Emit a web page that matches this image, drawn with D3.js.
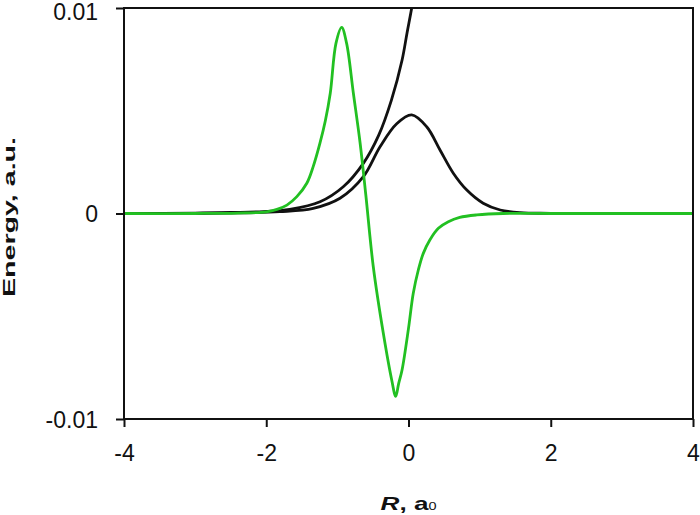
<!DOCTYPE html>
<html>
<head>
<meta charset="utf-8">
<script src="https://cdn.jsdelivr.net/npm/d3@7"></script>
<style>
  body { margin: 0; background: #fff; }
  svg { font-family: "Liberation Sans", Arial, sans-serif; }
</style>
</head>
<body>
<div id="chart"></div>
<script>
// Axis ticks
const xTicks = [-4, -2, 0, 2, 4];
const yTicks = [-0.01, 0, 0.01];

// Green curve
const greenR = [-4, -3, -2.4, -2.0, -1.85, -1.71, -1.57, -1.43, -1.34, -1.245, -1.17, -1.1, -1.02, -0.94, -0.87, -0.775, -0.68, -0.6, -0.495, -0.354, -0.236, -0.18, -0.14, -0.09, 0.0, 0.067, 0.138, 0.208, 0.3, 0.42, 0.56, 0.72, 0.96, 1.33, 2, 4];
const greenE = [0, 0, 0.00002, 0.00008, 0.0002, 0.00041, 0.00082, 0.00147, 0.00228, 0.00342, 0.0045, 0.00585, 0.00828, 0.00906, 0.00828, 0.00585, 0.00342, 0.0009, -0.00259, -0.00583, -0.0081, -0.0089, -0.0083, -0.0076, -0.00559, -0.00388, -0.00275, -0.00194, -0.00129, -0.00072, -0.0004, -0.00019, -0.00007, 0, 0, 0];

// Black bump
const bumpR = [-4, -3, -2.4, -1.81, -1.34, -0.963, -0.635, -0.4, -0.166, 0.045, 0.256, 0.443, 0.63, 0.82, 1.05, 1.29, 1.57, 2, 4];
const bumpE = [0, 0.00001, 0.00003, 0.00009, 0.00025, 0.00074, 0.00179, 0.00325, 0.00437, 0.0048, 0.00422, 0.00309, 0.00196, 0.00114, 0.0005, 0.00017, 0.00004, 0.00001, 0];

// Black rising curve
const riseR = [-4, -3, -2.5, -2.04, -1.67, -1.244, -0.917, -0.635, -0.42, -0.24, -0.09, -0.02, 0.045, 0.1];
const riseE = [0, 0.00002, 0.00005, 0.00009, 0.0002, 0.00057, 0.0013, 0.00244, 0.0038, 0.00552, 0.00747, 0.0088, 0.01, 0.0112];

const width = 700;
const height = 515;
const margin = { top: 8, right: 7, bottom: 96, left: 124 };
const innerW = width - margin.left - margin.right;
const innerH = height - margin.top - margin.bottom;

const svg = d3.select("#chart")
  .append("svg")
  .attr("width", width)
  .attr("height", height);

const g = svg.append("g")
  .attr("transform", `translate(${margin.left},${margin.top})`);

const x = d3.scaleLinear().domain([-4, 4]).range([0, innerW]);
const y = d3.scaleLinear().domain([-0.01, 0.01]).range([innerH, 0]);

// Clip the curves to the plot box
svg.append("defs").append("clipPath")
  .attr("id", "plot-clip")
  .append("rect")
  .attr("width", innerW)
  .attr("height", innerH);

const line = d3.line()
  .x((d) => x(d[0]))
  .y((d) => y(d[1]))
  .curve(d3.curveCatmullRom.alpha(0.5));

const series = [
  { r: riseR, e: riseE, color: "#111" },
  { r: bumpR, e: bumpE, color: "#111" },
  { r: greenR, e: greenE, color: "#22c022" },
];

const curves = g.append("g").attr("clip-path", "url(#plot-clip)");
series.forEach((s) => {
  curves.append("path")
    .datum(d3.zip(s.r, s.e))
    .attr("d", line)
    .attr("fill", "none")
    .attr("stroke", s.color)
    .attr("stroke-width", 2.8)
    .attr("stroke-linejoin", "round");
});

// plain hyphen for negatives, like the original
const fmt = (d) => (d === 0 ? "0" : String(d).replace("\u2212", "-"));

// Axes
const xAxis = g.append("g")
  .attr("transform", `translate(0,${innerH})`)
  .call(d3.axisBottom(x).tickValues(xTicks).tickSize(8).tickPadding(18).tickFormat(fmt));

const yAxis = g.append("g")
  .call(d3.axisLeft(y).tickValues(yTicks).tickSize(8).tickPadding(18).tickFormat(fmt));

[xAxis, yAxis].forEach((a) => {
  a.select(".domain").remove();
  a.selectAll(".tick line").attr("stroke", "#111").attr("stroke-width", 2);
  a.selectAll(".tick text")
    .attr("fill", "#111")
    .style("font-size", "23px");
});
yAxis.selectAll(".tick text").attr("dy", "0.36em");
// keep the top label inside the picture
yAxis.selectAll(".tick text").filter((d) => d === 0.01).attr("dy", "0.5em");

// Plot frame
g.append("rect")
  .attr("width", innerW)
  .attr("height", innerH)
  .attr("fill", "none")
  .attr("stroke", "#111")
  .attr("stroke-width", 2);

// Axis titles
svg.append("text")
  .attr("transform", `translate(${margin.left + innerW / 2},510) scale(1.45,1)`)
  .attr("text-anchor", "middle")
  .style("font-size", "18px")
  .style("font-weight", "bold")
  .attr("fill", "#111")
  .call((t) => {
    t.append("tspan").style("font-style", "italic").text("R");
    t.append("tspan").text(", a");
    t.append("tspan").style("font-size", "10px").style("font-weight", "normal").text("0");
  });

svg.append("text")
  .attr("transform", "translate(15,217) rotate(-90)")
  .attr("text-anchor", "middle")
  .attr("textLength", 160)
  .attr("lengthAdjust", "spacingAndGlyphs")
  .style("font-size", "17px")
  .style("font-weight", "bold")
  .attr("fill", "#111")
  .text("Energy, a.u.");
</script>
</body>
</html>
